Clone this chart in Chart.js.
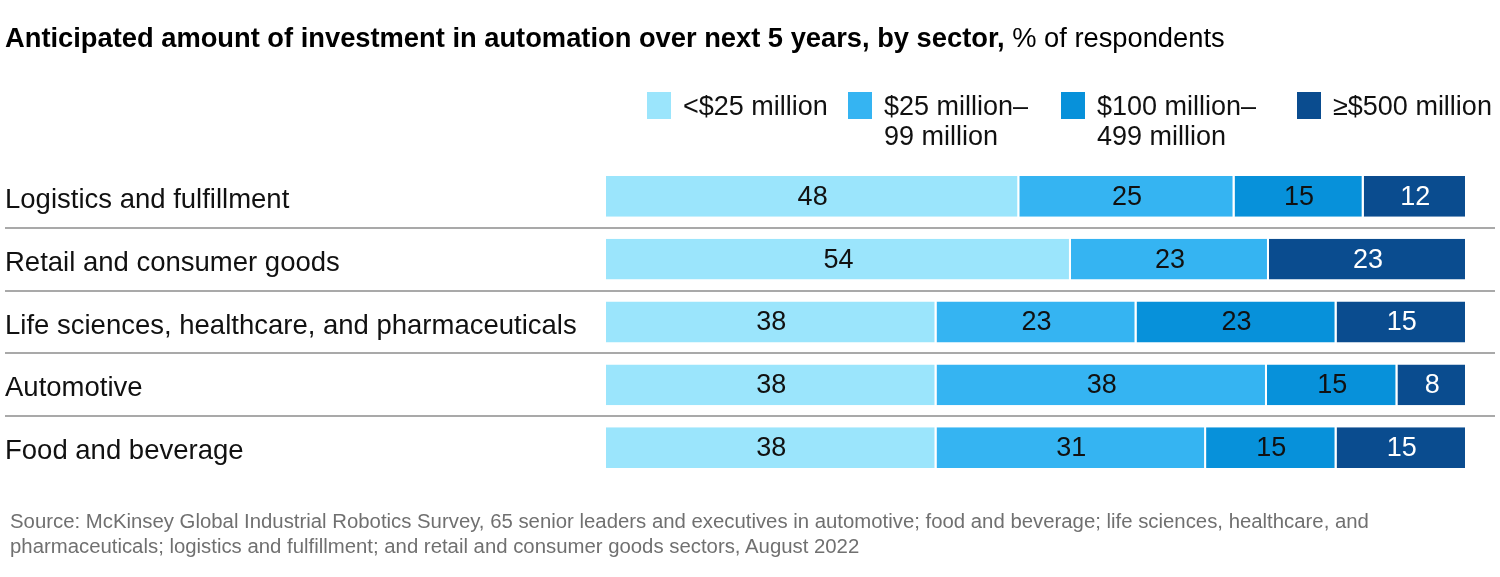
<!DOCTYPE html>
<html>
<head>
<meta charset="utf-8">
<script src="https://cdn.jsdelivr.net/npm/chart.js@4.4.1/dist/chart.umd.min.js"></script>
<style>
  body { margin:0; background:#fff; font-family:"Liberation Sans", Arial, sans-serif; }
  #wrap { position:relative; width:1500px; height:577px; }
  #wrap canvas { position:absolute; left:0; top:0; }
  #title { position:absolute; left:5px; top:22px; font-size:27.3px; color:#000; white-space:nowrap; }
  #title b { font-weight:bold; }
  .leg { position:absolute; top:92px; display:flex; align-items:flex-start; }
  .leg .sw { width:24px; height:27px; margin-right:12px; }
  .leg .tx { font-size:27px; line-height:30px; margin-top:-1px; color:#111; white-space:nowrap; }
  #src { position:absolute; left:10px; top:509px; font-size:20.35px; line-height:25px; color:#707070; width:1480px; white-space:nowrap; }
</style>
</head>
<body>
<div id="wrap">
  <canvas id="c" width="1500" height="577"></canvas>
  <div id="title"><b>Anticipated amount of investment in automation over next 5 years, by sector,</b> % of respondents</div>
  <div id="legend"></div>
  <div id="src">Source: McKinsey Global Industrial Robotics Survey, 65 senior leaders and executives in automotive; food and beverage; life sciences, healthcare, and<br>pharmaceuticals; logistics and fulfillment; and retail and consumer goods sectors, August 2022</div>
</div>
<script>
// ---------------- DATA ----------------
const sectors = [
    "Logistics and fulfillment",
    "Retail and consumer goods",
    "Life sciences, healthcare, and pharmaceuticals",
    "Automotive",
    "Food and beverage"
];
const seriesNames = [
    ["<$25 million"],
    ["$25 million–", "99 million"],
    ["$100 million–", "499 million"],
    ["≥$500 million"]
];
const under25 = [48, 54, 38, 38, 38];
const from25to99 = [25, 23, 23, 38, 31];
const from100to499 = [15, null, 23, 15, 15];
const over500 = [12, 23, 15, 8, 15];

const colors = ["#9be5fc", "#35b4f2", "#0791da", "#0a4c8f"];
const labelColors = ["#111", "#111", "#111", "#fff"];
const legendX = [647, 848, 1061, 1297];
const FONT = '"Liberation Sans", Arial, sans-serif';

// ---------------- LEGEND ----------------
const legendEl = document.getElementById("legend");
seriesNames.forEach((name, i) => {
    const item = document.createElement("div");
    item.className = "leg";
    item.style.left = legendX[i] + "px";
    item.innerHTML = '<div class="sw" style="background:' + colors[i] + '"></div>' +
        '<div class="tx">' + name.map(s => s.replace(/</g, "&lt;")).join("<br>") + '</div>';
    legendEl.appendChild(item);
});

// bars fill the full row: each value as a share of its row total (rounded labels don't always sum to 100)
const series = [under25, from25to99, from100to499, over500];
const rowTotals = sectors.map((_, i) => series.reduce((s, d) => s + (d[i] || 0), 0));
const shares = series.map(d => d.map((v, i) => v == null ? null : v / rowTotals[i] * 100));

// ---------------- PLUGINS ----------------
const separators = {
    id: "separators",
    afterDraw(chart) {
        const y = chart.scales.y;
        const ctx = chart.ctx;
        ctx.save();
        ctx.strokeStyle = "#a9a9a9";
        ctx.lineWidth = 2;
        for (let i = 0; i < sectors.length - 1; i++) {
            const py = Math.round((y.getPixelForValue(i) + y.getPixelForValue(i + 1)) / 2);
            ctx.beginPath();
            ctx.moveTo(5, py);
            ctx.lineTo(1495, py);
            ctx.stroke();
        }
        ctx.restore();
    }
};

const valueLabels = {
    id: "valueLabels",
    afterDatasetsDraw(chart) {
        const ctx = chart.ctx;
        ctx.save();
        ctx.font = "27px " + FONT;
        ctx.textAlign = "center";
        ctx.textBaseline = "middle";
        chart.data.datasets.forEach((ds, di) => {
            chart.getDatasetMeta(di).data.forEach((bar, i) => {
                const v = series[di][i];
                if (v == null) return;
                const p = bar.getCenterPoint();
                ctx.fillStyle = labelColors[di];
                ctx.fillText(String(v), p.x, p.y + 1);
            });
        });
        ctx.restore();
    }
};

// ---------------- CHART ----------------
new Chart(document.getElementById("c"), {
    type: "bar",
    data: {
        labels: sectors,
        datasets: shares.map((d, i) => ({
            label: seriesNames[i].join(" "),
            data: d,
            backgroundColor: colors[i],
            borderColor: "#ffffff",
            borderWidth: {left: 0, right: 2, top: 0, bottom: 0},
            borderSkipped: false,
            categoryPercentage: 1,
            barPercentage: 0.65
        }))
    },
    options: {
        indexAxis: "y",
        responsive: false,
        animation: false,
        devicePixelRatio: 1,
        layout: {padding: {left: 5, right: 33, top: 165, bottom: 98}},
        plugins: {legend: {display: false}, tooltip: {enabled: false}},
        scales: {
            x: {stacked: true, min: 0, max: 100, display: false},
            y: {
                stacked: true,
                grid: {display: false},
                border: {display: false},
                ticks: {
                    crossAlign: "far",
                    color: "#111",
                    padding: 0,
                    labelOffset: 4,
                    font: {family: FONT, size: 27.5}
                },
                afterFit(scale) { scale.width = 601; }
            }
        }
    },
    plugins: [separators, valueLabels]
});
</script>
</body>
</html>
